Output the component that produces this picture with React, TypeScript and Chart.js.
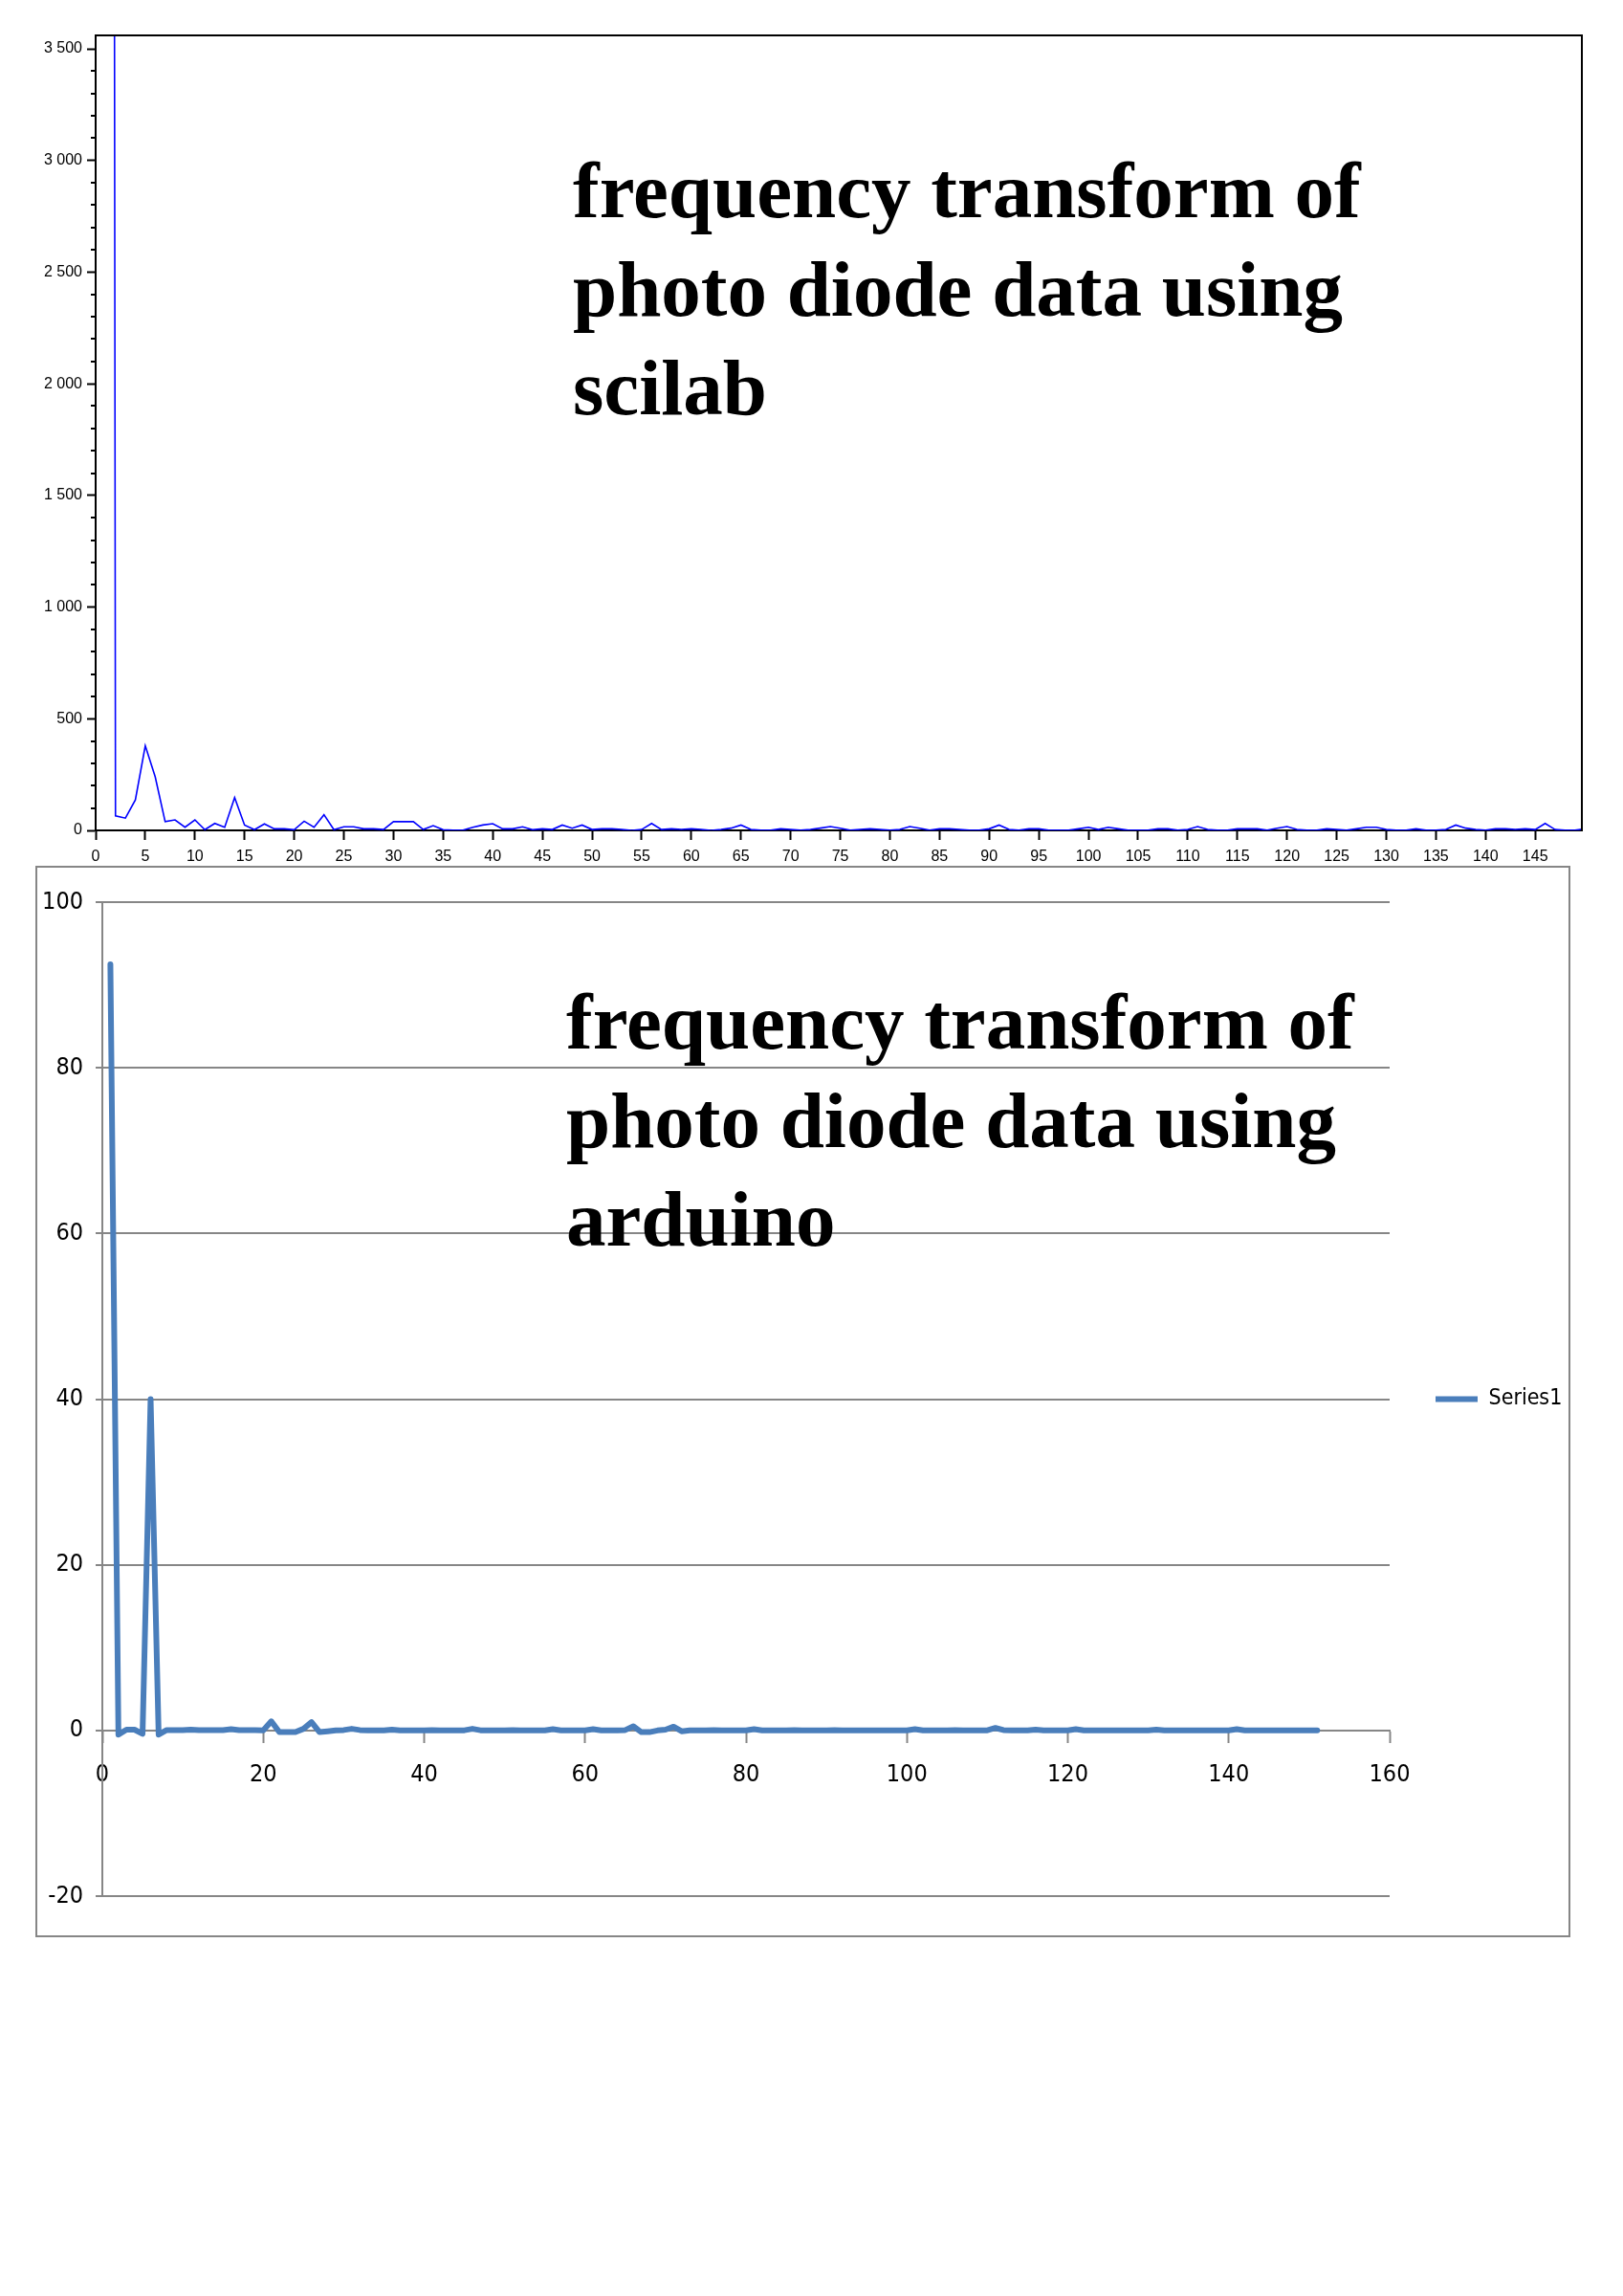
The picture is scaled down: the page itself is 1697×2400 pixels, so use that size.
import React, { useEffect, useRef } from "react";
import { Chart, registerables } from "chart.js";

Chart.register(...registerables);

// ---------- Top chart (scilab) ----------
const SCILAB_X_START = 1;
const SCILAB_VALUES = [
  35000, 65, 55, 136, 379, 240, 39, 47, 14, 47,
  3, 31, 14, 147, 24, 3, 29, 7, 7, 3,
  41, 14, 70, 3, 16, 16, 7, 7, 4, 39,
  39, 39, 4, 21, 3, 1, 1, 14, 24, 30,
  7, 7, 16, 3, 7, 4, 24, 10, 24, 4,
  7, 7, 4, 0, 4, 31, 4, 7, 4, 7,
  4, 0, 4, 10, 24, 4, 1, 1, 7, 4,
  1, 4, 10, 17, 10, 1, 4, 7, 4, 1,
  4, 17, 10, 1, 7, 7, 4, 1, 1, 7,
  24, 4, 1, 7, 7, 1, 1, 1, 7, 14,
  4, 14, 7, 1, 1, 1, 7, 7, 1, 4,
  17, 4, 1, 1, 7, 7, 7, 1, 10, 17,
  4, 1, 1, 7, 4, 1, 7, 14, 14, 4,
  1, 1, 7, 1, 1, 4, 24, 10, 4, 1,
  7, 7, 4, 7, 4, 31, 4, 1, 1, 7,
];
const SCILAB_X_MIN = 0;
const SCILAB_X_MAX = 149.7;
const SCILAB_X_STEP = 5;
const SCILAB_Y_MIN = 0;
const SCILAB_Y_MAX = 3560;
const SCILAB_Y_TICKS = [0, 500, 1000, 1500, 2000, 2500, 3000, 3500];
const SCILAB_Y_MINOR_STEP = 100;
const SCILAB_TITLE = ["frequency transform of", "photo diode data using", "scilab"];

// ---------- Bottom chart (arduino) ----------
const ARDUINO_X_START = 1;
const ARDUINO_VALUES = [
  92.5, -0.5, 0.1, 0.1, -0.4, 40, -0.5, 0.05, 0.05, 0.05,
  0.1, 0.05, 0.05, 0.05, 0.05, 0.15, 0.05, 0.05, 0.05, 0,
  1.1, -0.2, -0.2, -0.2, 0.2, 1.0, -0.2, -0.1, 0, 0.05,
  0.2, 0.05, 0.02, 0.02, 0.02, 0.1, 0.02, 0.02, 0.02, 0.02,
  0.05, 0.02, 0.02, 0.02, 0.02, 0.2, 0.02, 0.02, 0.02, 0.02,
  0.05, 0.02, 0.02, 0.02, 0.02, 0.15, 0.02, 0.02, 0.02, 0.02,
  0.15, 0.02, 0.02, 0.02, 0.05, 0.5, -0.2, -0.2, 0, 0.1,
  0.45, -0.1, 0.02, 0.02, 0.02, 0.05, 0.02, 0.02, 0.02, 0.02,
  0.15, 0.02, 0.02, 0.02, 0.02, 0.05, 0.02, 0.02, 0.02, 0.02,
  0.05, 0.02, 0.02, 0.02, 0.02, 0.02, 0.02, 0.02, 0.02, 0.02,
  0.15, 0.02, 0.02, 0.02, 0.02, 0.05, 0.02, 0.02, 0.02, 0.02,
  0.3, 0.05, 0.02, 0.02, 0.02, 0.1, 0.02, 0.02, 0.02, 0.02,
  0.15, 0.02, 0.02, 0.02, 0.02, 0.02, 0.02, 0.02, 0.02, 0.02,
  0.1, 0.02, 0.02, 0.02, 0.02, 0.02, 0.02, 0.02, 0.02, 0.02,
  0.15, 0.02, 0.02, 0.02, 0.02, 0.02, 0.02, 0.02, 0.02, 0.02,
  0.02,
];
const ARDUINO_X_MIN = 0;
const ARDUINO_X_MAX = 160;
const ARDUINO_X_STEP = 20;
const ARDUINO_Y_MIN = -20;
const ARDUINO_Y_MAX = 100;
const ARDUINO_Y_STEP = 20;
const ARDUINO_SERIES = "Series1";
const ARDUINO_TITLE = ["frequency transform of", "photo diode data using", "arduino"];

const SCILAB_BLUE = "#0000ff";
const EXCEL_BLUE = "#4a7ebb";
const EXCEL_GRAY = "#868686";
const NARROW = "'Liberation Sans Narrow', 'DejaVu Sans Condensed', 'Liberation Sans', sans-serif";

function spaced(v: number): string {
  if (v >= 1000) {
    const th = Math.floor(v / 1000);
    const rest = String(v % 1000).padStart(3, "0");
    return th + " " + rest;
  }
  return String(v);
}

const scilabFrame = {
  id: "scilabFrame",
  afterDraw(chart: any) {
    const { ctx, chartArea, scales } = chart;
    ctx.save();
    ctx.strokeStyle = "#000";
    ctx.lineWidth = 2;
    ctx.beginPath();
    ctx.moveTo(chartArea.left, chartArea.top);
    ctx.lineTo(chartArea.right, chartArea.top);
    ctx.lineTo(chartArea.right, chartArea.bottom);
    ctx.stroke();
    // minor ticks on the y axis
    ctx.beginPath();
    for (let v = SCILAB_Y_MIN; v <= SCILAB_Y_MAX; v += SCILAB_Y_MINOR_STEP) {
      if (SCILAB_Y_TICKS.indexOf(v) >= 0) continue;
      const y = Math.round(scales.y.getPixelForValue(v));
      ctx.moveTo(chartArea.left - 5, y);
      ctx.lineTo(chartArea.left, y);
    }
    ctx.stroke();
    ctx.restore();
  },
};

export default function App() {
  const topRef = useRef<HTMLCanvasElement | null>(null);
  const botRef = useRef<HTMLCanvasElement | null>(null);

  useEffect(() => {
    const topH = 920;
    const c1 = new Chart(topRef.current as HTMLCanvasElement, {
      type: "line",
      data: {
        datasets: [
          {
            data: SCILAB_VALUES.map((y, i) => ({ x: SCILAB_X_START + i, y })),
            borderColor: SCILAB_BLUE,
            borderWidth: 1.6,
            pointRadius: 0,
            tension: 0,
            fill: false,
          },
        ],
      },
      options: {
        animation: false,
        responsive: false,
        devicePixelRatio: 1,
        layout: { padding: { left: 0, top: 37, right: 43, bottom: 0 } },
        plugins: { legend: { display: false }, tooltip: { enabled: false } },
        scales: {
          x: {
            type: "linear",
            min: SCILAB_X_MIN,
            max: SCILAB_X_MAX,
            afterFit: (s: any) => {
              s.height = topH - 868;
            },
            ticks: {
              stepSize: SCILAB_X_STEP,
              includeBounds: false,
              autoSkip: false,
              maxRotation: 0,
              color: "#000",
              padding: 8,
              font: { family: "'Liberation Sans', Arial, sans-serif", size: 16 },
            },
            grid: {
              drawOnChartArea: false,
              drawTicks: true,
              tickLength: 10,
              tickColor: "#000",
              tickWidth: 2,
            },
            border: { display: true, color: "#000", width: 2 },
          },
          y: {
            type: "linear",
            min: SCILAB_Y_MIN,
            max: SCILAB_Y_MAX,
            afterFit: (s: any) => {
              s.width = 100;
            },
            afterBuildTicks: (s: any) => {
              s.ticks = SCILAB_Y_TICKS.map((v) => ({ value: v }));
            },
            ticks: {
              color: "#000",
              padding: 5,
              font: { family: "'Liberation Sans', Arial, sans-serif", size: 16 },
              callback: (v: any) => spaced(Number(v)),
            },
            grid: {
              drawOnChartArea: false,
              drawTicks: true,
              tickLength: 9,
              tickColor: "#000",
              tickWidth: 2,
            },
            border: { display: true, color: "#000", width: 2 },
          },
        },
      },
      plugins: [scilabFrame],
    } as any);

    const c2 = new Chart(botRef.current as HTMLCanvasElement, {
      type: "line",
      data: {
        datasets: [
          {
            label: ARDUINO_SERIES,
            data: ARDUINO_VALUES.map((y, i) => ({ x: ARDUINO_X_START + i, y })),
            borderColor: EXCEL_BLUE,
            backgroundColor: EXCEL_BLUE,
            borderWidth: 6,
            borderJoinStyle: "round",
            borderCapStyle: "round",
            pointRadius: 0,
            tension: 0,
            fill: false,
          },
        ],
      },
      options: {
        animation: false,
        responsive: false,
        devicePixelRatio: 1,
        layout: { padding: { left: 0, top: 36, right: 0, bottom: 41 } },
        plugins: {
          tooltip: { enabled: false },
          legend: {
            display: true,
            position: "right",
            align: "center",
            maxWidth: 187,
            labels: {
              boxWidth: 44,
              boxHeight: 6,
              padding: 48,
              color: "#000",
              font: { family: NARROW, size: 23 },
              generateLabels: () => [
                {
                  text: ARDUINO_SERIES,
                  fillStyle: EXCEL_BLUE,
                  strokeStyle: EXCEL_BLUE,
                  lineWidth: 0,
                  hidden: false,
                  datasetIndex: 0,
                },
              ],
            },
          },
        },
        scales: {
          x: {
            type: "linear",
            position: { y: 0 },
            min: ARDUINO_X_MIN,
            max: ARDUINO_X_MAX,
            ticks: {
              stepSize: ARDUINO_X_STEP,
              autoSkip: false,
              maxRotation: 0,
              color: "#000",
              padding: 20,
              font: { family: NARROW, size: 25 },
            },
            grid: {
              drawOnChartArea: false,
              drawTicks: true,
              tickLength: 12,
              tickColor: EXCEL_GRAY,
              tickWidth: 2,
            },
            border: { display: true, color: EXCEL_GRAY, width: 2 },
          },
          y: {
            type: "linear",
            min: ARDUINO_Y_MIN,
            max: ARDUINO_Y_MAX,
            afterFit: (s: any) => {
              s.width = 68;
            },
            ticks: {
              stepSize: ARDUINO_Y_STEP,
              color: "#000",
              padding: 13,
              font: { family: NARROW, size: 25 },
            },
            grid: {
              color: EXCEL_GRAY,
              lineWidth: 2,
              drawTicks: true,
              tickLength: 7,
              tickColor: EXCEL_GRAY,
            },
            border: { display: true, color: EXCEL_GRAY, width: 2 },
          },
        },
      },
    } as any);

    return () => {
      c1.destroy();
      c2.destroy();
    };
  }, []);

  const titleStyle = (left: number, top: number): React.CSSProperties => ({
    position: "absolute",
    left,
    top,
    fontFamily: "'Liberation Serif', 'Times New Roman', serif",
    fontWeight: 700,
    fontSize: 83,
    lineHeight: "103px",
    color: "#000",
    whiteSpace: "pre",
    zIndex: 5,
  });

  return (
    <div
      style={{
        position: "absolute",
        left: 0,
        top: 0,
        width: 1697,
        height: 2400,
        background: "#fff",
        overflow: "hidden",
      }}
    >
      <canvas
        ref={topRef}
        width={1697}
        height={920}
        style={{ position: "absolute", left: 0, top: 0, width: 1697, height: 920 }}
      />
      <div
        style={{
          position: "absolute",
          left: 37,
          top: 905,
          width: 1605,
          height: 1120,
          border: "2px solid " + EXCEL_GRAY,
          boxSizing: "border-box",
          background: "#fff",
        }}
      >
        <canvas
          ref={botRef}
          width={1601}
          height={1116}
          style={{ position: "absolute", left: 0, top: 0, width: 1601, height: 1116 }}
        />
      </div>
      <div style={titleStyle(599, 148)}>{SCILAB_TITLE.join("\n")}</div>
      <div style={titleStyle(592, 1017)}>{ARDUINO_TITLE.join("\n")}</div>
    </div>
  );
}
